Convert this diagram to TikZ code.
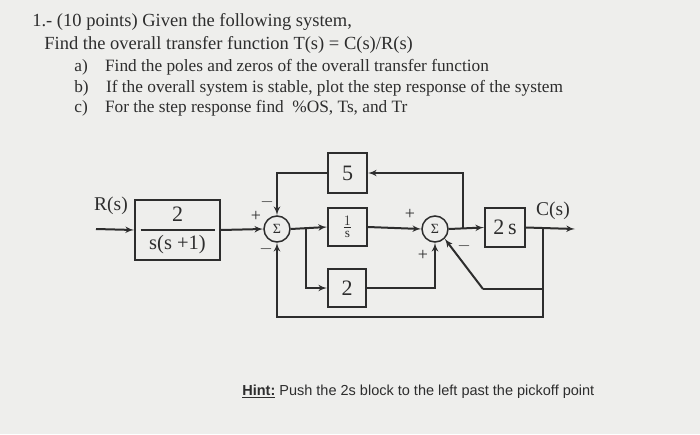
\documentclass[tikz,border=0pt]{standalone}
\usepackage{fontspec}
\setmainfont{Liberation Serif}
\newfontfamily\hintfont{Liberation Sans}
\usetikzlibrary{arrows,calc}
\definecolor{paper}{RGB}{238,238,236}
\definecolor{ink}{RGB}{45,45,45}
\begin{document}
\begin{tikzpicture}[x=1pt,y=-1pt,>=latex',line width=2pt,draw=ink,text=ink]
  \tikzset{
    block/.style={draw=ink, line width=1.8pt, inner sep=0pt},
    summer/.style={draw=ink, circle, line width=1.5pt, minimum size=26pt, inner sep=0pt, font=\fontsize{14}{14}\selectfont},
    sign/.style={font=\fontsize{18}{18}\selectfont, inner sep=1pt},
    line/.style={ink, line width=2pt}
  }
  \fill[paper] (0,0) rectangle (700,434);
  \useasboundingbox (0,0) rectangle (700,434);

  % question text
  \node [anchor=west, font=\fontsize{18.5}{20}\selectfont, name=q1] at (28,22) {1.- (10 points) Given the following system,};
  \node [anchor=west, font=\fontsize{18.5}{20}\selectfont, name=q2] at (40,45) {Find the overall transfer function T(s) = C(s)/R(s)};
  \node [anchor=west, font=\fontsize{17.3}{20}\selectfont, name=qa] at (70,67) {a)\quad Find the poles and zeros of the overall transfer function};
  \node [anchor=west, font=\fontsize{17.3}{20}\selectfont, name=qb] at (70,88) {b)\quad If the overall system is stable, plot the step response of the system};
  \node [anchor=west, font=\fontsize{17.3}{20}\selectfont, name=qc] at (70,108) {c)\quad For the step response find \ \%OS, Ts, and Tr};

  % blocks
  \node [block, minimum width=85pt, minimum height=60pt, name=g1] at (177.5,230) {};
  \node [font=\fontsize{22}{22}\selectfont, name=g1n] at (177.5,214) {2};
  \node [font=\fontsize{20.5}{20}\selectfont, name=g1d] at (177.5,245) {s(s +1)};
  \draw [line width=1.4pt] ($(g1.center)+(-37,0)$) -- ($(g1.center)+(37,0)$);
  \node [block, minimum width=39pt, minimum height=40pt, font=\fontsize{22}{22}\selectfont, name=k5] at (347.5,173) {5};
  \node [block, minimum width=39pt, minimum height=38pt, font=\fontsize{19}{19}\selectfont, name=integ] at (347.5,227) {$\frac{1}{\mathrm{s}}$};
  \node [block, minimum width=38pt, minimum height=38pt, font=\fontsize{22}{22}\selectfont, name=k2] at (347,288) {2};
  \node [block, minimum width=40pt, minimum height=39pt, font=\fontsize{22}{22}\selectfont, name=d2s] at (505,227.5) {2\,s};

  % summing junctions
  \node [summer, name=s1] at (277,229) {Σ};
  \node [summer, name=s2] at (435,229) {Σ};
  \node [sign] at (256,216) {+};
  \node [sign] at (267,202) {$-$};
  \node [sign] at (266,249) {$-$};
  \node [sign] at (410,214) {+};
  \node [sign] at (423,255) {+};
  \node [sign] at (464,246) {$-$};

  % labels
  \node [font=\fontsize{19.5}{19}\selectfont, name=rlab] at (111,206) {R(s)};
  \node [font=\fontsize{19.5}{19}\selectfont, name=clab] at (553,211) {C(s)};

  % junction points
  \coordinate (in) at (96,229);
  \coordinate (p1) at (306,229);
  \coordinate (p2) at (463,229);
  \coordinate (p3) at (543,229);
  \coordinate (out) at (575,229);
  \coordinate (dg) at (483,289);

  % connections
  \draw [->] (in) -- (g1.west);
  \draw [->] (g1.east) -- (s1.west);
  \draw [->] (s1.east) -- (integ.west);
  \draw [->] (integ.east) -- (s2.west);
  \draw [->] (s2.east) -- (d2s.west);
  \draw [->] (d2s.east) -- (out);
  \draw [->] (p1) |- (k2.west);
  \draw [->] (k2.east) -| (s2.south);
  \draw [->] (p2) |- (k5.east);
  \draw [->] (k5.west) -| (s1.north);
  \draw [->] (p3) |- (277,317) -- (s1.south);
  \draw (p3 |- dg) -- (dg);
  \draw [->] (dg) -- (s2.south east);

  % hint
  \node [anchor=west, font=\hintfont\fontsize{14.5}{16}\selectfont, name=hint] at (238,392) {\textbf{\underline{Hint:}} Push the 2s block to the left past the pickoff point};
\end{tikzpicture}
\end{document}
